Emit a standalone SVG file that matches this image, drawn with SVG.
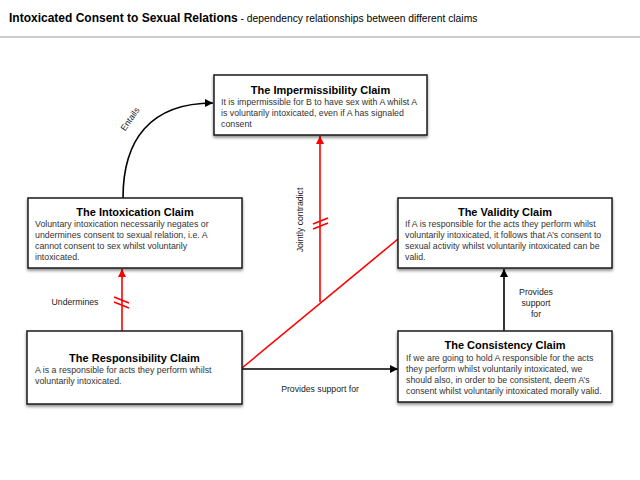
<svg xmlns="http://www.w3.org/2000/svg" width="640" height="480" viewBox="0 0 640 480">
<style>
  .box { fill: #ffffff; stroke: #1a1a1a; stroke-width: 1.5; filter: url(#shadow); }
  .ttl { font-family: "Liberation Sans", Arial, sans-serif; font-size: 11px; font-weight: bold; fill: #000; text-anchor: middle; }
  .body { font-family: "Liberation Sans", Arial, sans-serif; font-size: 8.8px; fill: #333; }
  .lbl { font-family: "Liberation Sans", Arial, sans-serif; font-size: 8.7px; fill: #222; }
  .blk { fill: none; stroke: #000; stroke-width: 1.6; }
  .red { fill: none; stroke: #ff0000; stroke-width: 1.6; }
  .head { font-family: "Liberation Sans", Arial, sans-serif; fill: #000; }
</style>
<defs>
  <filter id="shadow" x="-10%" y="-10%" width="120%" height="130%">
    <feDropShadow dx="0" dy="2" stdDeviation="1.5" flood-color="#000" flood-opacity="0.45"/>
  </filter>
  <marker id="ab" viewBox="0 0 10 10" refX="10" refY="5" markerWidth="9" markerHeight="8" markerUnits="userSpaceOnUse" orient="auto">
    <path d="M0,0 L10,5 L0,10 z" fill="#000"/>
  </marker>
  <marker id="ar" viewBox="0 0 10 10" refX="10" refY="5" markerWidth="9" markerHeight="8" markerUnits="userSpaceOnUse" orient="auto">
    <path d="M0,0 L10,5 L0,10 z" fill="#ff0000"/>
  </marker>
</defs>
<rect width="640" height="480" fill="#ffffff"/>

<g id="header">
  <text class="head" x="9" y="22"><tspan font-size="12" font-weight="bold">Intoxicated Consent to Sexual Relations</tspan><tspan font-size="10.3"> - dependency relationships between different claims</tspan></text>
  <line x1="0" y1="37" x2="640" y2="37" stroke="#999" stroke-width="1.2"/>
</g>

<g id="connectors">
  <path class="blk" d="M123,198 C123,140 150,103 213,103" marker-end="url(#ab)"/>
  <text class="lbl" x="130" y="122" text-anchor="middle" transform="rotate(-55 130 119)">Entails</text>

  <line class="red" x1="122" y1="331" x2="122" y2="269" marker-end="url(#ar)"/>
  <line class="red" x1="114" y1="297" x2="129" y2="303"/>
  <line class="red" x1="114" y1="302" x2="129" y2="308"/>
  <text class="lbl" x="75" y="305" text-anchor="middle">Undermines</text>

  <line class="red" x1="242" y1="368" x2="398" y2="239"/>
  <line class="red" x1="320" y1="302" x2="320" y2="136" marker-end="url(#ar)"/>
  <line class="red" x1="313" y1="224" x2="328" y2="218"/>
  <line class="red" x1="313" y1="229" x2="328" y2="223"/>
  <text class="lbl" text-anchor="middle" transform="translate(303 220) rotate(-90)">Jointly contradict</text>

  <line class="blk" x1="242" y1="369" x2="398" y2="369" marker-end="url(#ab)"/>
  <text class="lbl" x="320" y="392" text-anchor="middle">Provides support for</text>

  <line class="blk" x1="504" y1="331" x2="504" y2="269" marker-end="url(#ab)"/>
  <text class="lbl" text-anchor="middle"><tspan x="536" y="295">Provides</tspan><tspan x="536" y="306">support</tspan><tspan x="536" y="317">for</tspan></text>
</g>

<g id="impermissibility">
  <rect class="box" x="214" y="75" width="213" height="60"/>
  <text class="ttl" x="320.5" y="94">The Impermissibility Claim</text>
  <text class="body"><tspan x="221" y="105">It is impermissible for B to have sex with A whilst A</tspan><tspan x="221" y="116">is voluntarily intoxicated, even if A has signaled</tspan><tspan x="221" y="127">consent</tspan></text>
</g>

<g id="intoxication">
  <rect class="box" x="28" y="198" width="214" height="70"/>
  <text class="ttl" x="135" y="216">The Intoxication Claim</text>
  <text class="body"><tspan x="35" y="227">Voluntary intoxication necessarily negates or</tspan><tspan x="35" y="238">undermines consent to sexual relation, i.e. A</tspan><tspan x="35" y="249">cannot consent to sex whilst voluntarily</tspan><tspan x="35" y="260">intoxicated.</tspan></text>
</g>

<g id="validity">
  <rect class="box" x="398" y="198" width="214" height="70"/>
  <text class="ttl" x="505" y="216">The Validity Claim</text>
  <text class="body"><tspan x="405" y="227">If A is responsible for the acts they perform whilst</tspan><tspan x="405" y="238">voluntarily intoxicated, it follows that A’s consent to</tspan><tspan x="405" y="249">sexual activity whilst voluntarily intoxicated can be</tspan><tspan x="405" y="260">valid.</tspan></text>
</g>

<g id="consistency">
  <rect class="box" x="398" y="331" width="214" height="71"/>
  <text class="ttl" x="505" y="349">The Consistency Claim</text>
  <text class="body"><tspan x="406" y="361">If we are going to hold A responsible for the acts</tspan><tspan x="406" y="372">they perform whilst voluntarily intoxicated, we</tspan><tspan x="406" y="383">should also, in order to be consistent, deem A’s</tspan><tspan x="406" y="394">consent whilst voluntarily intoxicated morally valid.</tspan></text>
</g>

<g id="responsibility">
  <rect class="box" x="27" y="331" width="215" height="73"/>
  <text class="ttl" x="134.5" y="362">The Responsibility Claim</text>
  <text class="body"><tspan x="35" y="373">A is a responsible for acts they perform whilst</tspan><tspan x="35" y="384">voluntarily intoxicated.</tspan></text>
</g>
</svg>
